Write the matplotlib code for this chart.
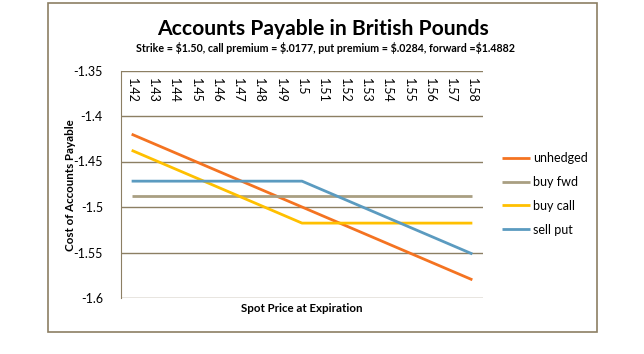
import matplotlib
matplotlib.use("Agg")
import matplotlib.pyplot as plt
from matplotlib.patches import Rectangle
import matplotlib.transforms as mtransforms

spot = ["1.42", "1.43", "1.44", "1.45", "1.46", "1.47", "1.48", "1.49", "1.5",
        "1.51", "1.52", "1.53", "1.54", "1.55", "1.56", "1.57", "1.58"]
unhedged = [-1.42, -1.43, -1.44, -1.45, -1.46, -1.47, -1.48, -1.49, -1.50,
            -1.51, -1.52, -1.53, -1.54, -1.55, -1.56, -1.57, -1.58]
buy_fwd = [-1.4882] * 17
buy_call = [-1.4377, -1.4477, -1.4577, -1.4677, -1.4777, -1.4877, -1.4977, -1.5077, -1.5177,
            -1.5177, -1.5177, -1.5177, -1.5177, -1.5177, -1.5177, -1.5177, -1.5177]
sell_put = [-1.4716, -1.4716, -1.4716, -1.4716, -1.4716, -1.4716, -1.4716, -1.4716, -1.4716,
            -1.4816, -1.4916, -1.5016, -1.5116, -1.5216, -1.5316, -1.5416, -1.5516]
y_ticks = [-1.35, -1.4, -1.45, -1.5, -1.55, -1.6]
y_tick_labels = ["-1.35", "-1.4", "-1.45", "-1.5", "-1.55", "-1.6"]

plt.rcParams['font.family'] = ['Lato', 'DejaVu Sans']

W, H = 644, 354
fig = plt.figure(figsize=(W / 100, H / 100), dpi=100)
fig.patch.set_facecolor("white")

border_col = "#8C7F63"
fig.add_artist(Rectangle((48 / W, 1 - 332 / H), (597 - 48) / W, (332 - 3) / H,
                         transform=fig.transFigure, fill=False, edgecolor=border_col, lw=1.2))

left, right, top, bottom = 121, 483, 70.5, 298
ax = fig.add_axes([left / W, 1 - bottom / H, (right - left) / W, (bottom - top) / H])

x = list(range(len(spot)))
series = [("unhedged", unhedged, "#F47321"),
          ("buy fwd", buy_fwd, "#A99F82"),
          ("buy call", buy_call, "#FFC000"),
          ("sell put", sell_put, "#5B9BC0")]
for name, vals, col in series:
    ax.plot(x, vals, color=col, lw=2, label=name, solid_capstyle="butt")

ax.set_xlim(-0.5, len(spot) - 0.5)
ax.set_ylim(-1.6, -1.35)
ax.set_yticks(y_ticks)
ax.set_yticklabels(y_tick_labels, fontsize=9)
ax.yaxis.grid(True, color="#8C7F63", lw=1)
ax.set_axisbelow(True)
for s in ["top", "right", "bottom"]:
    ax.spines[s].set_visible(False)
ax.spines["left"].set_color("#8C7F63")
ax.tick_params(axis="y", length=0, pad=13)

ax.xaxis.tick_top()
ax.set_xticks(x)
ax.set_xticklabels(spot, rotation=-90, fontsize=9)
ax.tick_params(axis="x", length=0, pad=0)
offset = mtransforms.ScaledTranslation(0, -7 / 100, fig.dpi_scale_trans)
for lbl in ax.get_xticklabels():
    lbl.set_verticalalignment("top")
    lbl.set_transform(lbl.get_transform() + offset)

fig.text(323 / W, 1 - 29 / H, "Accounts Payable in British Pounds", ha="center", va="center",
         fontsize=15.2, fontweight="bold")
fig.text(325 / W, 1 - 48 / H,
         r"Strike = \$1.50, call premium = \$.0177, put premium = \$.0284, forward =\$1.4882",
         ha="center", va="center", fontsize=7.7, fontweight="bold")
fig.text(302 / W, 1 - 308 / H, "Spot Price at Expiration", ha="center", va="center",
         fontsize=8.3, fontweight="bold")
fig.text(70 / W, 1 - 185 / H, "Cost of Accounts Payable", ha="center", va="center",
         rotation=90, fontsize=8.3, fontweight="bold")

ax.legend(loc="upper left", bbox_to_anchor=(502 / W, 1 - 152 / H), bbox_transform=fig.transFigure,
          frameon=False, fontsize=9, handlelength=2.2, handletextpad=0.25, labelspacing=0.95,
          borderaxespad=0, borderpad=0)

fig.savefig("out.png", dpi=100, facecolor="white")
